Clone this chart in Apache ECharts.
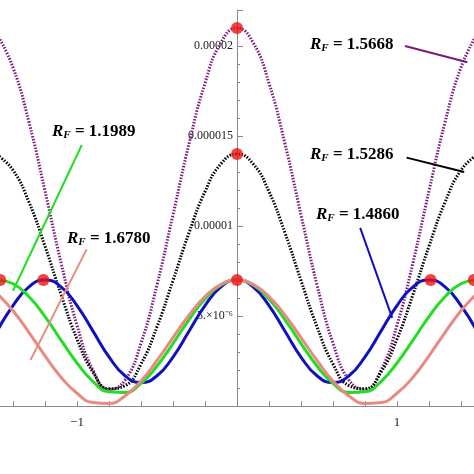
<!DOCTYPE html>
<html>
<head>
<meta charset="utf-8">
<script src="https://cdn.jsdelivr.net/npm/echarts@6/dist/echarts.min.js"></script>
<style>html,body{margin:0;padding:0;background:#fff}#chart{width:474px;height:474px}</style>
</head>
<body>
<div id="chart"></div>
<script>
// x 取样点, y 单位为 1e-6 (只列 x>=0, 左半对称)
var xHalf = [0, 0.1, 0.2, 0.3, 0.4, 0.5, 0.6, 0.7, 0.8, 0.9, 1.0, 1.1, 1.2, 1.3, 1.4, 1.5];
var purpleY = [21.0, 20.2, 17.93, 14.56, 10.62, 6.73, 3.49, 1.44, 0.92, 1.99, 4.48, 7.97, 11.95, 15.76, 18.81, 20.65];
var blackY  = [14.0, 13.46, 11.91, 9.62, 6.97, 4.40, 2.33, 1.13, 0.96, 1.88, 3.72, 6.20, 8.88, 11.32, 13.1, 13.95];
var salmonY = [7.0, 6.76, 6.08, 5.04, 3.80, 2.53, 1.39, 0.56, 0.14, 0.19, 0.71, 1.60, 2.79, 4.08, 5.29, 6.26];
var blueY   = [7.0, 6.62, 5.58, 4.15, 2.72, 1.68, 1.30, 1.68, 2.73, 4.16, 5.58, 6.62, 7.0, 6.62, 5.58, 4.15];
var greenY  = [7.0, 6.72, 5.94, 4.79, 3.47, 2.22, 1.26, 0.75, 0.79, 1.36, 2.39, 3.66, 4.97, 6.07, 6.79, 6.99];
var redDots = [[0, 21], [0, 14], [0, 7], [-1.21, 7], [1.21, 7], [-1.48, 7], [1.48, 7]];
var labelTexts = ['1.5668', '1.1989', '1.6780', '1.5286', '1.4860'];
var labelPos = [[310, 36], [52, 123], [67, 230], [310, 146], [316, 206]];
var pointers = [
    [[1.05, 20], [1.44, 19.1]],
    [[-0.97, 14.5], [-1.40, 6.4]],
    [[-0.94, 8.7], [-1.29, 2.56]],
    [[1.06, 13.8], [1.42, 13.0]],
    [[0.77, 9.9], [0.97, 4.9]]
];
var pointerColors = ['#7b1a7b', '#22dd22', '#e88a80', '#000000', '#1010c0'];

function full(ys) {
    var out = [];
    for (var i = xHalf.length - 1; i > 0; i--) out.push([-xHalf[i], ys[i]]);
    for (var j = 0; j < xHalf.length; j++) out.push([xHalf[j], ys[j]]);
    return out;
}

var series = [];
function curve(ys, color, dotted) {
    series.push({
        type: 'line', data: full(ys), smooth: true, showSymbol: false,
        lineStyle: { color: color, width: 3, type: dotted ? [1.5, 1.5] : 'solid' }
    });
}
curve(purpleY, '#7b1a7b', true);
curve(blackY, '#000000', true);
curve(blueY, '#1010c0', false);
curve(greenY, '#22dd22', false);
curve(salmonY, '#e88a80', false);
pointers.forEach(function (p, i) {
    series.push({ type: 'line', data: p, showSymbol: false, lineStyle: { color: pointerColors[i], width: 2 } });
});
series.push({ type: 'scatter', data: redDots, symbolSize: 12, itemStyle: { color: '#ee1111' }, z: 10 });

var graphics = labelTexts.map(function (t, i) {
    return {
        type: 'text', left: labelPos[i][0], top: labelPos[i][1],
        style: {
            text: '{r|R}{s|F}{n| = ' + t + '}',
            rich: {
                r: { fontFamily: 'Liberation Serif', fontStyle: 'italic', fontWeight: 'bold', fontSize: 17, fill: '#000' },
                s: { fontFamily: 'Liberation Serif', fontStyle: 'italic', fontWeight: 'bold', fontSize: 11, fill: '#000', padding: [8, 0, 0, 0] },
                n: { fontFamily: 'Liberation Serif', fontWeight: 'bold', fontSize: 17, fill: '#000' }
            }
        }
    };
});

var yLabels = { 5: '5.×10⁻⁶', 10: '0.00001', 15: '0.000015', 20: '0.00002' };

var option = {
    animation: false,
    grid: { left: -19, right: -19, top: 10, bottom: 68, outerBoundsMode: 'none', containLabel: false },
    xAxis: {
        type: 'value', min: -1.6, max: 1.6, interval: 0.2,
        axisLine: { onZero: true, lineStyle: { color: '#888' } },
        axisTick: { inside: true, length: 5, lineStyle: { color: '#888' } },
        splitLine: { show: false },
        axisLabel: { color: '#222', fontFamily: 'Liberation Serif', fontSize: 13, margin: 10, showMinLabel: false, showMaxLabel: false,
            formatter: function (v) {
                if (Math.abs(v - 1) < 1e-6) return '1';
                if (Math.abs(v + 1) < 1e-6) return '\u22121';
                return '';
            } }
    },
    yAxis: {
        type: 'value', min: 0, max: 22, interval: 5, offset: -256,
        axisLine: { show: true, lineStyle: { color: '#888' } },
        axisTick: { inside: true, length: 6, lineStyle: { color: '#888' } },
        minorTick: { show: true, splitNumber: 5, length: 3, lineStyle: { color: '#888' } },
        splitLine: { show: false },
        axisLabel: { color: '#222', fontFamily: 'Liberation Serif', fontSize: 12, margin: 4,
            formatter: function (v) { return yLabels[v] || ''; } }
    },
    graphic: graphics,
    series: series
};

var chart = echarts.init(document.getElementById('chart'));
chart.setOption(option);
</script>
</body>
</html>
